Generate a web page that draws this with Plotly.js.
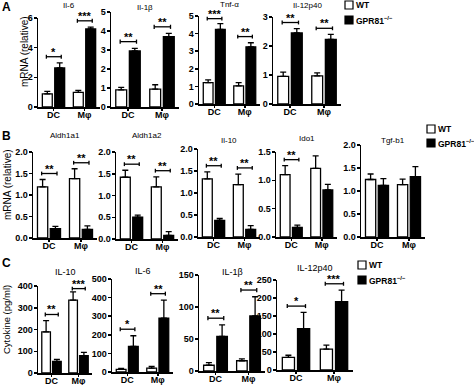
<!DOCTYPE html>
<html>
<head>
<meta charset="utf-8">
<script src="https://cdn.plot.ly/plotly-3.0.1.min.js"></script>
<style>html,body{margin:0;padding:0;background:#fff;}#chart{width:474px;height:385px;}</style>
</head>
<body>
<div id="chart"></div>
<script>
// ---------- DATA ----------
const categories = ['DC', 'Mφ'];
const seriesNames = ['WT', 'GPR81<sup>−/−</sup>'];

// Row A : mRNA (relative)
const genesA  = ['Il-6', 'Il-1β', 'Tnf-α', 'Il-12p40'];
const wtA     = [[0.88, 0.99], [0.90, 0.94], [1.22, 1.03], [0.95, 0.97]];
const wtErrA  = [[0.17, 0.13], [0.13, 0.23], [0.15, 0.19], [0.15, 0.10]];
const koA     = [[2.63, 5.26], [2.95, 3.70], [4.24, 3.25], [2.45, 2.23]];
const koErrA  = [[0.34, 0.13], [0.14, 0.17], [0.33, 0.23], [0.15, 0.17]];
const sigA    = [['*', '***'], ['**', '**'], ['***', '**'], ['**', '**']];
const yMaxA   = [6, 5, 5, 3];
const yTickA  = [2, 1, 1, 1];

// Row B : mRNA (relative)
const genesB  = ['Aldh1a1', 'Aldh1a2', 'Il-10', 'Ido1', 'Tgf-b1'];
const wtB     = [[1.19, 1.38], [1.42, 1.20], [1.32, 1.19], [1.10, 1.21], [1.25, 1.14]];
const wtErrB  = [[0.17, 0.23], [0.16, 0.23], [0.16, 0.24], [0.16, 0.22], [0.12, 0.12]];
const koB     = [[0.22, 0.20], [0.50, 0.08], [0.38, 0.17], [0.17, 0.83], [1.12, 1.31]];
const koErrB  = [[0.05, 0.08], [0.05, 0.09], [0.04, 0.09], [0.04, 0.10], [0.15, 0.22]];
const sigB    = [['**', '**'], ['**', '**'], ['**', '**'], ['**', ''], ['', '']];
const yMaxB   = [2, 2, 2, 1.5, 2];
const yTickB  = [0.5, 0.5, 0.5, 0.5, 0.5];

// Row C : Cytokine (pg/ml)
const cytoC   = ['IL-10', 'IL-6', 'IL-1β', 'IL-12p40'];
const wtC     = [[189, 335], [14, 21], [9, 16], [35, 58]];
const wtErrC  = [[52, 38], [6, 9], [4, 3], [6, 11]];
const koC     = [[53, 80], [138, 289], [54, 86], [115, 190]];
const koErrC  = [[10, 15], [57, 97], [18, 30], [45, 32]];
const sigC    = [['**', '***'], ['*', '**'], ['**', '**'], ['*', '***']];
const yMaxC   = [400, 500, 150, 250];
const yTickC  = [100, 100, 50, 50];

const axisTitles = ['mRNA (relative)', 'mRNA (relative)', 'Cytokine (pg/ml)'];
const panelLetters = ['A', 'B', 'C'];

// ---------- LAYOUT GEOMETRY (pixels) ----------
const W = 474, H = 385;
const FONT = 'Liberation Sans, Arial, sans-serif';
const px = p => p / W;
const py = p => 1 - p / H;

const rows = [
  { titles: genesA, wt: wtA, wtErr: wtErrA, ko: koA, koErr: koErrA, sig: sigA, yMax: yMaxA, dtick: yTickA,
    boxes: [[38,100,18,107],[111,179,12,107],[199,260,16,104],[273,341,17,104]],
    titleY: [5,7,4,5], titleSize: 8, fmt: '', legendXY: [345, 5, 20],
    axTitleX: 24, axTitleY: 52, axTitleSize: 10, letterY: 7 },
  { titles: genesB, wt: wtB, wtErr: wtErrB, ko: koB, koErr: koErrB, sig: sigB, yMax: yMaxB, dtick: yTickB,
    boxes: [[33,97,152,238],[116,178,152,239],[198,260,149,237],[276,337,152,237],[361,425,145,237]],
    titleY: [135,135,140,138,140], titleSize: 8, fmt: '.1f', legendXY: [427, 129, 143],
    axTitleX: 7, axTitleY: 185, axTitleSize: 10, letterY: 136 },
  { titles: cytoC, wt: wtC, wtErr: wtErrC, ko: koC, koErr: koErrC, sig: sigC, yMax: yMaxC, dtick: yTickC,
    boxes: [[38,92,286,373],[112,173,279,372],[199,265,275,371],[277,353,280,370]],
    titleY: [272,271,272,268], titleSize: 9, fmt: '', legendXY: [358, 265, 280],
    axTitleX: 6, axTitleY: 320, axTitleSize: 9.5, letterY: 263 }
];

const traces = [];
const layout = {
  width: W, height: H,
  margin: {l: 0, r: 0, t: 0, b: 0},
  paper_bgcolor: 'white', plot_bgcolor: 'rgba(0,0,0,0)',
  barmode: 'group', bargap: 0.2, bargroupgap: 0.2,
  font: {family: FONT, color: 'black'},
  showlegend: false,
  shapes: [], annotations: []
};

const OFF = (1 - 0.2) / 4;
const fills = ['white', 'black'];
let k = 0;
rows.forEach((row, r) => {
  // legend keys (one per series) for the row
  const lx = row.legendXY[0];
  [row.legendXY[1], row.legendXY[2]].forEach((ly, s) => {
    layout.shapes.push({type: 'rect', xref: 'paper', yref: 'paper',
      x0: px(lx), x1: px(lx + 8), y0: py(ly + 4), y1: py(ly - 4),
      fillcolor: fills[s], line: {color: 'black', width: 1.2}});
    layout.annotations.push({xref: 'paper', yref: 'paper', x: px(lx + 9), y: py(ly),
      xanchor: 'left', yanchor: 'middle', showarrow: false, text: seriesNames[s],
      font: {family: FONT, size: 8.5, weight: 'bold', color: 'black'}});
  });

  row.titles.forEach((title, i) => {
    k += 1;
    const sfx = k === 1 ? '' : String(k);
    const b = row.boxes[i];
    layout['xaxis' + sfx] = {
      domain: [px(b[0]), px(b[1])], anchor: 'y' + sfx, type: 'category',
      range: [-0.5, 1.5], showline: true, linecolor: 'black', linewidth: 1.5,
      ticks: 'outside', ticklen: 2, tickwidth: 1.5, tickcolor: 'black', ticklabelstandoff: -3,
      tickfont: {family: FONT, size: 9, weight: 'bold', color: 'black'},
      showgrid: false, zeroline: false, fixedrange: true
    };
    layout['yaxis' + sfx] = {
      domain: [py(b[3]), py(b[2])], anchor: 'x' + sfx,
      range: [0, row.yMax[i]], dtick: row.dtick[i], tick0: 0, tickformat: row.fmt,
      showline: true, linecolor: 'black', linewidth: 1.5,
      ticks: 'outside', ticklen: 3, tickwidth: 1.5, tickcolor: 'black', ticklabelstandoff: -1,
      tickfont: {family: FONT, size: 9, weight: 'bold', color: 'black'},
      showgrid: false, zeroline: false, fixedrange: true
    };
    const common = {type: 'bar', x: categories, xaxis: 'x' + sfx, yaxis: 'y' + sfx, hoverinfo: 'skip'};
    traces.push(Object.assign({}, common, {
      name: 'WT', y: row.wt[i],
      marker: {color: 'white', line: {color: 'black', width: 1.3}},
      error_y: {type: 'data', array: row.wtErr[i], arrayminus: [0, 0], symmetric: false,
        color: 'black', thickness: 1.3, width: 3}
    }));
    traces.push(Object.assign({}, common, {
      name: 'GPR81-/-', y: row.ko[i],
      marker: {color: 'black', line: {color: 'black', width: 1.3}},
      error_y: {type: 'data', array: row.koErr[i], arrayminus: [0, 0], symmetric: false,
        color: 'black', thickness: 1.3, width: 3}
    }));

    // panel title
    layout.annotations.push({xref: 'paper', yref: 'paper', x: px((b[0] + b[1]) / 2), y: py(row.titleY[i]),
      xanchor: 'center', yanchor: 'middle', showarrow: false, text: title,
      font: {family: FONT, size: row.titleSize, color: 'black'}});

    // significance brackets
    row.sig[i].forEach((s, j) => {
      if (!s) return;
      const top = Math.max(row.wt[i][j] + row.wtErr[i][j], row.ko[i][j] + row.koErr[i][j]);
      const yb = Math.min(top + 0.07 * row.yMax[i], 0.97 * row.yMax[i]);
      const c = 0.022 * row.yMax[i];
      const x0 = j - OFF - 0.03, x1 = j + OFF + 0.05;
      const ln = {color: 'black', width: 1.3};
      const ref = {xref: 'x' + sfx, yref: 'y' + sfx, type: 'line', line: ln};
      layout.shapes.push(Object.assign({x0: x0, x1: x1, y0: yb, y1: yb}, ref));
      layout.shapes.push(Object.assign({x0: x0, x1: x0, y0: yb - c, y1: yb + c}, ref));
      layout.shapes.push(Object.assign({x0: x1, x1: x1, y0: yb - c, y1: yb + c}, ref));
      layout.annotations.push({xref: 'x' + sfx, yref: 'y' + sfx, x: (x0 + x1) / 2, y: yb,
        xanchor: 'center', yanchor: 'bottom', yshift: -3, showarrow: false, text: s,
        font: {family: FONT, size: 11, weight: 'bold', color: 'black'}});
    });
  });

  // y-axis title for the row
  layout.annotations.push({xref: 'paper', yref: 'paper', x: px(row.axTitleX), y: py(row.axTitleY),
    xanchor: 'center', yanchor: 'middle', textangle: -90, showarrow: false, text: axisTitles[r],
    font: {family: FONT, size: row.axTitleSize, color: 'black'}});
  // panel letter
  layout.annotations.push({xref: 'paper', yref: 'paper', x: px(0), y: py(row.letterY),
    xanchor: 'left', yanchor: 'middle', showarrow: false, text: panelLetters[r],
    font: {family: FONT, size: 12, weight: 'bold', color: 'black'}});
});

Plotly.newPlot('chart', traces, layout, {displayModeBar: false, staticPlot: true});
</script>
</body>
</html>
